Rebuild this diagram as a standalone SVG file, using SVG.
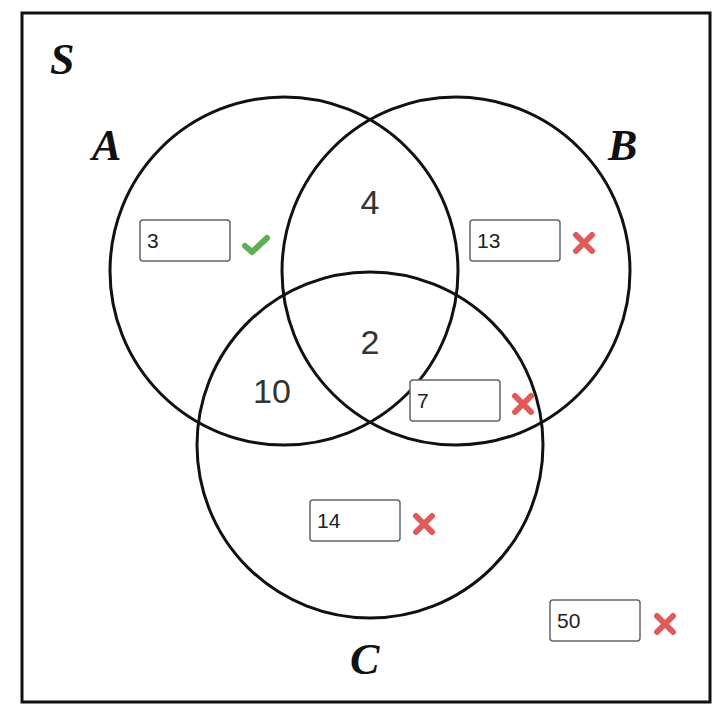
<svg xmlns="http://www.w3.org/2000/svg" width="726" height="722" viewBox="0 0 726 722">
<style>
.c{fill:none;stroke:#111;stroke-width:3}
.lab{font-family:"Liberation Serif",serif;font-weight:bold;font-style:italic;font-size:44px;fill:#111}
.num{font-family:"Liberation Sans",sans-serif;font-size:34px;fill:#333}
.box{fill:#fff;stroke:#666;stroke-width:1.5}
.bt{font-family:"Liberation Sans",sans-serif;font-size:21px;fill:#222}
.x{stroke:#e05a5a;stroke-width:6;stroke-linecap:round}
.ok{fill:none;stroke:#5fae5a;stroke-width:6;stroke-linecap:round;stroke-linejoin:round}
</style>
<rect x="0" y="0" width="726" height="722" fill="#fff"/>
<rect x="22" y="13" width="688" height="689" fill="none" stroke="#111" stroke-width="3"/>
<text class="lab" x="50" y="74">S</text>
<g id="A"><circle class="c" cx="284" cy="271" r="174"/><text class="lab" x="92" y="160">A</text></g>
<g id="B"><circle class="c" cx="456" cy="271" r="174"/><text class="lab" x="608" y="160">B</text></g>
<g id="C"><circle class="c" cx="370" cy="445" r="173"/><text class="lab" x="350" y="674">C</text></g>
<g id="connectors"/>
<g id="n4"><text class="num" x="370" y="214" text-anchor="middle">4</text></g>
<g id="n2"><text class="num" x="370" y="354" text-anchor="middle">2</text></g>
<g id="n10"><text class="num" x="272" y="403" text-anchor="middle">10</text></g>
<g id="bA"><rect class="box" x="140" y="220" width="90" height="41" rx="3"/><text class="bt" x="147" y="248">3</text>
<polyline class="ok" points="245,246 252,252 267,238"/></g>
<g id="bB"><rect class="box" x="470" y="220" width="90" height="41" rx="3"/><text class="bt" x="477" y="248">13</text>
<path class="x" d="M576,235L592,251M592,235L576,251"/></g>
<g id="bBC"><rect class="box" x="410" y="380" width="90" height="41" rx="3"/><text class="bt" x="417" y="408">7</text>
<path class="x" d="M515,396L531,412M531,396L515,412"/></g>
<g id="bC"><rect class="box" x="310" y="500" width="90" height="41" rx="3"/><text class="bt" x="317" y="528">14</text>
<path class="x" d="M416,516L432,532M432,516L416,532"/></g>
<g id="bS"><rect class="box" x="550" y="600" width="90" height="41" rx="3"/><text class="bt" x="557" y="628">50</text>
<path class="x" d="M657,616L673,632M673,616L657,632"/></g>
</svg>
